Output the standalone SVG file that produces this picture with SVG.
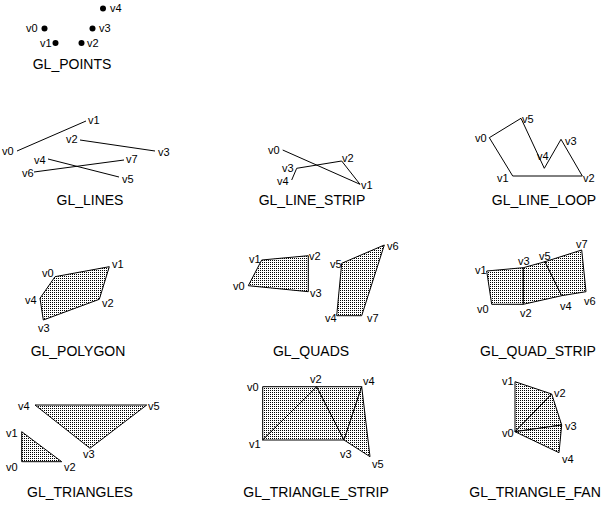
<svg xmlns="http://www.w3.org/2000/svg" width="614" height="508" viewBox="0 0 614 508">
<style>
text{font-family:"Liberation Sans",Arial,sans-serif;fill:#000}
.t{font-size:14px;text-anchor:middle}
.v{font-size:11px}
.ln{fill:none;stroke:#000;stroke-width:1}
.f{fill:url(#dots);stroke:#000;stroke-width:1;stroke-linejoin:round}
.d{fill:#000}
</style>
<defs>
<pattern id="dots" patternUnits="userSpaceOnUse" width="2" height="2">
<rect width="2" height="2" fill="#fff"/>
<rect width="1" height="1" fill="#000" shape-rendering="crispEdges"/>
</pattern>
</defs>
<rect width="614" height="508" fill="#fff"/>

<g id="points">
<circle class="d" cx="103" cy="8.5" r="3"/>
<circle class="d" cx="44.5" cy="28.5" r="3"/>
<circle class="d" cx="92.5" cy="28.5" r="3"/>
<circle class="d" cx="55.5" cy="43" r="3"/>
<circle class="d" cx="81.5" cy="43" r="3"/>
<text class="v" x="110" y="12">v4</text>
<text class="v" x="26" y="32">v0</text>
<text class="v" x="99" y="32">v3</text>
<text class="v" x="40" y="47">v1</text>
<text class="v" x="87" y="47">v2</text>
<text class="t" x="72" y="69">GL_POINTS</text>
</g>

<g id="lines">
<line class="ln" x1="17" y1="151" x2="86" y2="121"/>
<line class="ln" x1="80" y1="140" x2="155" y2="151"/>
<line class="ln" x1="48" y1="159" x2="119" y2="177"/>
<line class="ln" x1="34" y1="172" x2="124" y2="160"/>
<text class="v" x="2" y="155">v0</text>
<text class="v" x="88" y="124">v1</text>
<text class="v" x="66" y="143">v2</text>
<text class="v" x="158" y="156">v3</text>
<text class="v" x="34" y="164">v4</text>
<text class="v" x="122" y="183">v5</text>
<text class="v" x="22" y="177">v6</text>
<text class="v" x="126" y="163">v7</text>
<text class="t" x="90" y="205">GL_LINES</text>
</g>

<g id="line_strip">
<polyline class="ln" points="282.7,150 360,184.3 341.7,161 296.7,168.3 291.7,180"/>
<text class="v" x="268" y="154">v0</text>
<text class="v" x="361" y="189">v1</text>
<text class="v" x="342" y="162">v2</text>
<text class="v" x="282" y="172">v3</text>
<text class="v" x="277" y="185">v4</text>
<text class="t" x="312" y="205">GL_LINE_STRIP</text>
</g>

<g id="line_loop">
<polygon class="ln" points="489.3,137.7 512.7,176 582.3,176 561,139.3 544.3,168.3 521,118.3"/>
<text class="v" x="475" y="142">v0</text>
<text class="v" x="497" y="182">v1</text>
<text class="v" x="583" y="182">v2</text>
<text class="v" x="565" y="145">v3</text>
<text class="v" x="537" y="160">v4</text>
<text class="v" x="522" y="123">v5</text>
<text class="t" x="544" y="205">GL_LINE_LOOP</text>
</g>

<g id="polygon">
<polygon class="f" points="55,276.7 109.3,266.7 99.3,299.3 43.3,320 40,298.3"/>
<text class="v" x="42" y="277">v0</text>
<text class="v" x="112" y="268">v1</text>
<text class="v" x="102" y="307">v2</text>
<text class="v" x="38" y="332">v3</text>
<text class="v" x="25" y="304">v4</text>
<text class="t" x="78" y="356">GL_POLYGON</text>
</g>

<g id="quads">
<polygon class="f" points="248.3,285.7 261.7,260 308.3,255.7 308.3,291.7"/>
<polygon class="f" points="336.7,315.7 341.7,263.3 384.3,245 361.7,315.7"/>
<text class="v" x="233" y="290">v0</text>
<text class="v" x="249" y="263">v1</text>
<text class="v" x="309" y="260">v2</text>
<text class="v" x="310" y="297">v3</text>
<text class="v" x="325" y="322">v4</text>
<text class="v" x="330" y="268">v5</text>
<text class="v" x="387" y="250">v6</text>
<text class="v" x="367" y="322">v7</text>
<text class="t" x="311" y="356">GL_QUADS</text>
</g>

<g id="quad_strip">
<polygon class="f" points="491.7,304.3 486.7,271 523.3,267.7 523.3,304.3"/>
<polygon class="f" points="523.3,304.3 523.3,267.7 545,261.7 561.7,295.7"/>
<polygon class="f" points="561.7,295.7 545,261.7 581.7,250 586,291.7"/>
<text class="v" x="477" y="313">v0</text>
<text class="v" x="475" y="274">v1</text>
<text class="v" x="520" y="317">v2</text>
<text class="v" x="518" y="265">v3</text>
<text class="v" x="560" y="310">v4</text>
<text class="v" x="539" y="260">v5</text>
<text class="v" x="584" y="305">v6</text>
<text class="v" x="576" y="248">v7</text>
<text class="t" x="538" y="356">GL_QUAD_STRIP</text>
</g>

<g id="triangles">
<polygon class="f" points="21.7,461.7 21.7,431.7 61.7,461.7"/>
<polygon class="f" points="90,448.3 35,405 146.7,405"/>
<text class="v" x="6" y="471">v0</text>
<text class="v" x="6" y="437">v1</text>
<text class="v" x="64" y="471">v2</text>
<text class="v" x="83" y="458">v3</text>
<text class="v" x="18" y="410">v4</text>
<text class="v" x="148" y="410">v5</text>
<text class="t" x="80" y="497">GL_TRIANGLES</text>
</g>

<g id="triangle_strip">
<polygon class="f" points="262.7,386.7 262.7,440 316.7,386.7"/>
<polygon class="f" points="262.7,440 316.7,386.7 344,440"/>
<polygon class="f" points="316.7,386.7 344,440 361.7,386.7"/>
<polygon class="f" points="344,440 361.7,386.7 370,456.7"/>
<text class="v" x="247" y="391">v0</text>
<text class="v" x="249" y="448">v1</text>
<text class="v" x="310" y="383">v2</text>
<text class="v" x="340" y="458">v3</text>
<text class="v" x="363" y="385">v4</text>
<text class="v" x="372" y="468">v5</text>
<text class="t" x="316" y="497">GL_TRIANGLE_STRIP</text>
</g>

<g id="triangle_fan">
<polygon class="f" points="515,431.7 515,381.7 551.7,394"/>
<polygon class="f" points="515,431.7 551.7,394 561.7,425"/>
<polygon class="f" points="515,431.7 561.7,425 559,452.7"/>
<text class="v" x="502" y="437">v0</text>
<text class="v" x="502" y="385">v1</text>
<text class="v" x="554" y="397">v2</text>
<text class="v" x="565" y="430">v3</text>
<text class="v" x="562" y="463">v4</text>
<text class="t" x="535" y="497">GL_TRIANGLE_FAN</text>
</g>
</svg>
